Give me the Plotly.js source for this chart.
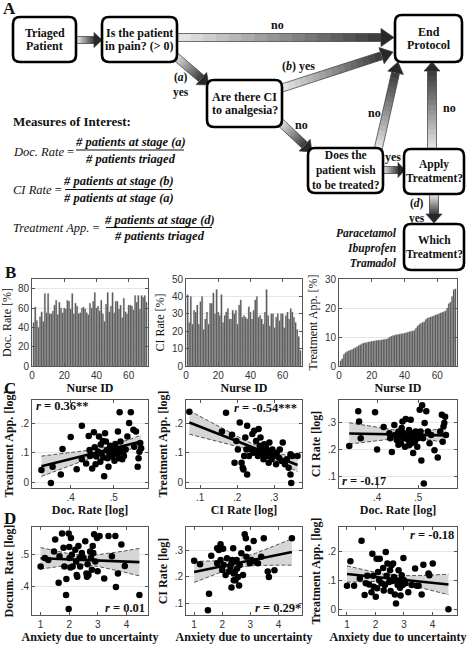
<!DOCTYPE html>
<html>
<head>
<meta charset="utf-8">
<script src="https://cdn.plot.ly/plotly-3.0.1.min.js"></script>
<style>
  html, body { margin: 0; padding: 0; background: #fff; }
  #fig { width: 474px; height: 646px; }
</style>
</head>
<body>
<div id="fig"></div>
<script>
// ---------- Panel B: per-nurse rates (%) ----------
const docRatePct = [45, 61, 47, 40, 51, 56, 46, 75, 55, 75, 54, 54, 57, 63, 68, 53, 66, 60, 55, 60,
  59, 68, 67, 59, 75, 54, 65, 62, 54, 55, 60, 61, 59, 55, 53, 65, 60, 67, 76, 60,
  62, 57, 68, 54, 46, 64, 76, 56, 62, 76, 55, 67, 67, 59, 63, 50, 70, 56, 54, 63,
  63, 62, 58, 73, 66, 73, 59, 73, 71, 73, 66];
const ciRatePct = [41, 25, 40, 24, 32, 31, 35, 24, 37, 40, 21, 27, 31, 24, 36, 36, 42, 30, 44, 31,
  29, 41, 25, 29, 31, 33, 27, 27, 32, 30, 32, 24, 35, 38, 28, 29, 28, 27, 34, 31,
  27, 32, 38, 40, 28, 29, 27, 24, 31, 44, 29, 23, 30, 30, 22, 28, 30, 26, 30, 30,
  22, 29, 31, 27, 33, 31, 28, 25, 21, 17, 9];
const treatAppPctSorted = [1.8, 2.5, 4.0, 4.6, 5.0, 5.3, 5.5, 5.7, 6.0, 6.3, 6.6, 7.0, 7.3, 7.7, 7.9, 8.0, 8.1, 8.3, 8.4, 8.5,
  8.6, 8.7, 8.8, 8.9, 8.9, 9.0, 9.1, 9.2, 9.3, 9.6, 10.0, 10.3, 10.5, 10.6, 10.8, 10.9, 11.0, 11.1, 11.2, 11.3,
  11.5, 11.6, 11.8, 12.0, 12.1, 12.3, 13.0, 13.8, 14.3, 14.7, 15.0, 15.3, 16.0, 16.5, 16.7, 16.9, 17.1, 17.3, 17.6, 17.8,
  18.0, 18.3, 18.5, 18.7, 19.0, 20.0, 21.5, 22.0, 24.0, 26.3, 26.6];

// ---------- Panel C: log-rate relations ----------
const c1Doc = [.332,.354,.358,.381,.377,.400,.414,.426,.426,.436,.442,.444,.448,.450,.454,.456,.460,.464,.466,.469,
  .472,.476,.478,.480,.482,.484,.486,.488,.490,.492,.496,.500,.502,.504,.508,.510,.512,.514,.516,.518,
  .520,.524,.528,.532,.536,.540,.546,.548,.552,.556,.558,.560,.562,.564,.470,.458,.494,.506,.522,.445,.475,.498];
const c1Treat = [.043,.000,.054,.113,.028,.153,.046,.191,.079,.065,.157,.110,.093,.048,.169,.119,.088,.104,.155,.071,
  .099,.085,.022,.166,.138,.110,.082,.054,.099,.124,.088,.110,.074,.130,.099,.172,.082,.236,.138,.110,
  .079,.090,.112,.155,.200,.236,.178,.121,.172,.054,.082,.104,.133,.116,.128,.062,.102,.115,.098,.090,.140,.092];

const c2CI = [.071,.170,.159,.186,.198,.207,.227,.193,.212,.215,.217,.227,.232,.237,.241,.246,.251,.254,.256,.258,
  .261,.263,.266,.268,.271,.273,.276,.278,.280,.283,.285,.287,.290,.293,.295,.300,.305,.307,.313,.315,
  .320,.323,.329,.334,.339,.344,.349,.344,.346,.363,.222,.225,.244,.202,.219];
const c2Treat = [.238,.234,.172,.161,.140,.202,.191,.067,.067,.051,.045,.028,.090,.112,.163,.174,.140,.107,.090,.180,
  .124,.152,.096,.112,.079,.129,.101,.118,.090,.107,.067,.135,.096,.079,.112,.090,.062,.101,.084,.112,
  .073,.135,.062,.079,.051,.096,.090,.028,.000,.090,.152,.112,.101,.112,.090];

const c3Doc = [.332,.354,.356,.360,.395,.400,.416,.430,.432,.436,.442,.444,.448,.452,.456,.458,.460,.462,.464,.466,
  .468,.470,.472,.476,.478,.480,.482,.484,.486,.488,.490,.492,.494,.496,.498,.500,.504,.506,.508,.510,
  .512,.514,.516,.520,.524,.528,.532,.540,.548,.554,.558,.560,.562,.564,.566,.568,.478,.452];
const c3CI = [.213,.343,.305,.242,.339,.200,.284,.261,.242,.191,.292,.254,.235,.267,.248,.223,.280,.305,.261,.242,
  .210,.314,.254,.235,.273,.248,.311,.223,.261,.187,.242,.229,.267,.251,.210,.242,.349,.267,.159,.365,
  .242,.073,.299,.343,.267,.223,.254,.197,.170,.267,.330,.229,.286,.299,.322,.254,.216,.218];

// ---------- Panel D: anxiety due to uncertainty ----------
const d1Anx = [1.00,1.15,1.27,1.51,1.47,1.63,1.66,1.75,1.80,1.83,1.89,1.90,1.98,1.98,2.00,2.01,2.04,2.06,2.09,2.12,
  2.21,2.24,2.26,2.28,2.32,2.36,2.38,2.44,2.50,2.56,2.60,2.62,2.64,2.67,2.73,2.76,2.79,2.82,2.84,2.87,
  2.91,2.97,2.99,3.06,3.22,3.37,3.61,3.49,3.63,3.70,3.82,3.94,4.45];
const d1Doc = [.462,.488,.482,.544,.508,.413,.493,.562,.519,.462,.376,.424,.562,.333,.521,.488,.459,.549,.498,.462,
  .513,.477,.436,.431,.524,.488,.462,.503,.488,.539,.441,.431,.469,.436,.508,.488,.452,.524,.503,.560,
  .477,.549,.448,.555,.426,.555,.555,.493,.400,.441,.529,.464,.376];

const d2Anx = [1.00,1.21,1.53,1.49,1.61,1.82,1.88,1.94,2.03,1.82,1.94,2.05,2.17,2.00,2.12,2.24,2.29,2.35,2.41,2.47,
  2.53,2.39,2.33,2.51,2.45,2.62,2.68,2.80,2.84,2.86,2.92,2.98,3.04,3.12,3.19,3.27,3.39,3.48,3.62,3.66,
  3.86,4.48,2.56,2.74,2.41,2.60,2.33];
const d2CI = [.262,.249,.136,.072,.282,.310,.304,.326,.308,.253,.265,.246,.272,.227,.208,.221,.240,.265,.213,.187,
  .233,.310,.253,.265,.221,.246,.291,.364,.349,.278,.310,.253,.265,.338,.259,.253,.278,.349,.221,.200,
  .226,.349,.200,.208,.187,.167,.160];

const d3Anx = [1.00,1.12,1.25,1.51,1.45,1.62,1.66,1.71,1.78,1.86,1.89,1.92,1.94,2.01,2.04,2.06,2.09,2.13,2.15,2.21,
  2.27,2.29,2.33,2.36,2.39,2.42,2.48,2.51,2.53,2.56,2.60,2.62,2.65,2.68,2.72,2.74,2.78,2.81,2.86,2.88,
  2.89,2.92,2.95,2.98,3.00,3.05,3.15,3.27,3.39,3.45,3.51,3.62,3.68,3.86,3.89,4.01,4.56];
const d3Treat = [.081,.165,.081,.236,.106,.049,.089,.115,.085,.058,.191,.115,.077,.043,.174,.072,.128,.100,.174,.089,
  .142,.064,.083,.197,.115,.157,.094,.134,.063,.151,.097,.157,.111,.051,.020,.100,.083,.134,.074,.047,
  .100,.117,.083,.176,.100,.089,.058,.083,.140,.081,.081,.051,.153,.123,.117,.157,.000];

// Correlation labels
const rLabels = ["<i>r</i> = 0.36**", "<i>r</i> = -0.54***", "<i>r</i> = -0.17",
                 "<i>r</i> = 0.01", "<i>r</i> = 0.29*", "<i>r</i> = -0.18"];

// Tick labels
const pctTicksB1 = [0, 20, 40, 60, 80];
const pctTicksB2 = [0, 10, 20, 30, 40, 50];
const pctTicksB3 = [0, 10, 20, 30];
const nurseTicks = [0, 20, 40, 60];
const docTickVals = [0.4, 0.5], docTickText = [".4", ".5"];
const ciTickVals = [0.1, 0.2, 0.3], ciTickText = [".1", ".2", ".3"];
const treatTickVals = [0, 0.1, 0.2], treatTickText = ["0", ".1", ".2"];
const documTickVals = [0.4, 0.5], documTickText = [".4", ".5"];
const anxTicks = [1, 2, 3, 4];

// ---------- helpers ----------
const W = 474, H = 646;
const SERIF = "'Liberation Serif', 'DejaVu Serif', serif";
const SANS = "'Liberation Sans', Arial, sans-serif";
const fx = x => x / W;
const fy = y => 1 - y / H;
const P = (x, y) => fx(x).toFixed(5) + ',' + fy(y).toFixed(5);

const shapes = [];
const annotations = [];

function txt(x, y, text, o = {}) {
  annotations.push({
    xref: 'paper', yref: 'paper', x: fx(x), y: fy(y), text, showarrow: false,
    xanchor: o.xanchor || 'center', yanchor: 'middle', borderpad: 0, align: o.align || 'center',
    font: { family: SERIF, size: o.size || 12, color: o.color || '#111' }
  });
}
function lines(cx, cy, arr, lh, o = {}) {
  arr.forEach((t, i) => txt(cx, cy + (i - (arr.length - 1) / 2) * lh, t, o));
}
function box(x0, y0, x1, y1, r) {
  const path = `M${P(x0 + r, y0)} L${P(x1 - r, y0)} Q${P(x1, y0)} ${P(x1, y0 + r)} L${P(x1, y1 - r)} Q${P(x1, y1)} ${P(x1 - r, y1)} L${P(x0 + r, y1)} Q${P(x0, y1)} ${P(x0, y1 - r)} L${P(x0, y0 + r)} Q${P(x0, y0)} ${P(x0 + r, y0)} Z`;
  shapes.push({ type: 'path', xref: 'paper', yref: 'paper', path, fillcolor: '#fff', line: { color: '#000', width: 2.6 } });
}
function gray(v) { v = Math.round(v); return `rgb(${v},${v},${v})`; }
function arrow(x0, y0, x1, y1, w, hw, hl) {
  const L = Math.hypot(x1 - x0, y1 - y0), ux = (x1 - x0) / L, uy = (y1 - y0) / L, nx = -uy, ny = ux;
  const sl = L - hl, bx = x1 - ux * hl, by = y1 - uy * hl;
  const N = 16;
  for (let i = 0; i < N; i++) {
    const t0 = i / N * sl, t1 = Math.min((i + 1) / N * sl + 0.7, sl);
    const ax0 = x0 + ux * t0, ay0 = y0 + uy * t0, ax1 = x0 + ux * t1, ay1 = y0 + uy * t1;
    const path = `M${P(ax0 + nx * w / 2, ay0 + ny * w / 2)} L${P(ax1 + nx * w / 2, ay1 + ny * w / 2)} L${P(ax1 - nx * w / 2, ay1 - ny * w / 2)} L${P(ax0 - nx * w / 2, ay0 - ny * w / 2)} Z`;
    shapes.push({ type: 'path', xref: 'paper', yref: 'paper', path, fillcolor: gray(232 - 175 * (i + 0.5) / N), line: { width: 0 } });
  }
  const head = `M${P(bx + nx * hw / 2, by + ny * hw / 2)} L${P(x1, y1)} L${P(bx - nx * hw / 2, by - ny * hw / 2)} Z`;
  shapes.push({ type: 'path', xref: 'paper', yref: 'paper', path: head, fillcolor: gray(40), line: { width: 0 } });
  const outline = `M${P(x0 + nx * w / 2, y0 + ny * w / 2)} L${P(bx + nx * w / 2, by + ny * w / 2)} L${P(bx + nx * hw / 2, by + ny * hw / 2)} L${P(x1, y1)} L${P(bx - nx * hw / 2, by - ny * hw / 2)} L${P(bx - nx * w / 2, by - ny * w / 2)} L${P(x0 - nx * w / 2, y0 - ny * w / 2)}`;
  shapes.push({ type: 'path', xref: 'paper', yref: 'paper', path: outline, line: { color: '#3a3a3a', width: 0.7 } });
}
function hline(x0, x1, y) {
  shapes.push({ type: 'line', xref: 'paper', yref: 'paper', x0: fx(x0), x1: fx(x1), y0: fy(y), y1: fy(y), line: { color: '#111', width: 1.2 } });
}

// ---------- Panel A: flowchart ----------
arrow(77, 40, 102, 40, 7, 15, 8);
arrow(178, 37.5, 394, 37.5, 8, 18, 13);
arrow(175, 56, 209, 85, 8, 16, 10);
arrow(282, 88, 393, 52, 8, 17, 12);
arrow(280, 122, 312, 152, 8, 16, 10);
arrow(378, 150, 398, 62, 8, 16, 11);
arrow(383, 170, 405, 170, 7, 15, 7);
arrow(432, 149, 432, 62, 9, 16, 9);
arrow(434, 195, 434, 223, 9, 16, 9);

box(13, 17, 76, 62, 7);
box(102, 17, 177, 62, 7);
box(395, 15, 462, 62, 7);
box(207, 80, 282, 127, 7);
box(308, 148, 383, 193, 7);
box(404, 149, 464, 194, 7);
box(404, 224, 464, 270, 7);

const B = s => '<b>' + s + '</b>';
lines(44.5, 39.5, [B('Triaged'), B('Patient')], 12.5, { size: 12 });
lines(139.5, 39.5, [B('Is the patient'), B('in pain? (&gt; 0)')], 12.5, { size: 12 });
lines(428.5, 38.5, [B('End'), B('Protocol')], 12.5, { size: 12 });
lines(244.5, 103.5, [B('Are there CI'), B('to analgesia?')], 12.5, { size: 12 });
txt(345.5, 170.5, B('Does the<br>patient wish<br>to be treated?'), { size: 11.5 });
lines(434, 171.5, [B('Apply'), B('Treatment?')], 13.5, { size: 11.5 });
lines(434, 247, [B('Which'), B('Treatment?')], 13.5, { size: 11.5 });

txt(277, 25, B('no'), { size: 12 });
txt(181, 85, B('(<i>a</i>)<br>yes'), { size: 11.5 });
txt(298, 66, B('(<i>b</i>) yes'), { size: 12 });
txt(301, 125, B('no'), { size: 12 });
txt(374, 113, B('no'), { size: 12 });
txt(449, 108, B('no'), { size: 12 });
txt(393, 157, B('yes'), { size: 12 });
txt(417, 210.5, B('(<i>d</i>)<br>yes'), { size: 11.5 });

txt(398, 247.5, '<b><i>Paracetamol<br>Ibuprofen<br>Tramadol</i></b>', { xanchor: 'right', align: 'right', size: 11.5 });

txt(12, 122, B('Measures of Interest:'), { xanchor: 'left', size: 13 });
txt(12, 152, '<i>Doc. Rate</i> =', { xanchor: 'left', size: 12.5 });
txt(130, 142, '<b><i># patients at stage (a)</i></b>', { size: 12.5 });
hline(76, 184, 150);
txt(130, 159, '<b><i># patients triaged</i></b>', { size: 12.5 });
txt(12, 190, '<i>CI Rate</i> =', { xanchor: 'left', size: 12.5 });
txt(118, 181, '<b><i># patients at stage (b)</i></b>', { size: 12.5 });
hline(65, 172, 189.5);
txt(118, 198, '<b><i># patients at stage (a)</i></b>', { size: 12.5 });
txt(12, 228, '<i>Treatment App.</i> =', { xanchor: 'left', size: 12.5 });
txt(159, 220, '<b><i># patients at stage (d)</i></b>', { size: 12.5 });
hline(106, 212, 227.5);
txt(159, 236, '<b><i># patients triaged</i></b>', { size: 12.5 });

// Panel letters
txt(9, 8, B('A'), { size: 17 });
txt(10, 272, B('B'), { size: 17 });
txt(10, 388, B('C'), { size: 17 });
txt(10, 518, B('D'), { size: 17 });

// ---------- axes ----------
const cols = [[32, 148], [186, 302], [339, 457]].map(c => [fx(c[0]), fx(c[1])]);
const rows = { B: [fy(366), fy(279)], C: [fy(488), fy(400)], D: [fy(615), fy(527)] };

function axis(domain, anchor, range, tickvals, ticktext, title, bold, standoff) {
  return {
    domain, anchor, range, tickmode: 'array', tickvals, ticktext: ticktext || tickvals.map(String),
    showline: true, mirror: 'ticks', linecolor: '#555', linewidth: 1,
    ticks: 'inside', ticklen: 3, tickcolor: '#555',
    tickfont: { family: SANS, size: 10, color: '#333' },
    zeroline: false, showgrid: false, fixedrange: true, automargin: false,
    title: { text: bold ? B(title) : title, font: { family: SERIF, size: 12, color: '#111' }, standoff: standoff }
  };
}

const layout = {
  width: W, height: H, margin: { l: 0, r: 0, t: 0, b: 0 },
  paper_bgcolor: '#fff', plot_bgcolor: '#fff', showlegend: false,
  bargap: 0.12, shapes, annotations,
  xaxis: axis(cols[0], 'y', [0, 72], nurseTicks, null, 'Nurse ID', true, 0),
  yaxis: axis(rows.B, 'x', [0, 90], pctTicksB1, null, 'Doc. Rate [%]', false, 4),
  xaxis2: axis(cols[1], 'y2', [0, 72], nurseTicks, null, 'Nurse ID', true, 0),
  yaxis2: axis(rows.B, 'x2', [0, 50], pctTicksB2, null, 'CI Rate [%]', false, 4),
  xaxis3: axis(cols[2], 'y3', [0, 72], nurseTicks, null, 'Nurse ID', true, 0),
  yaxis3: axis(rows.B, 'x3', [0, 30], pctTicksB3, null, 'Treatment App. [%]', false, 4),
  xaxis4: axis(cols[0], 'y4', [0.31, 0.58], docTickVals, docTickText, 'Doc. Rate [log]', true, 1),
  yaxis4: axis(rows.C, 'x4', [-0.017, 0.277], treatTickVals, treatTickText, 'Treatment App. [log]', true, 4),
  xaxis5: axis(cols[1], 'y5', [0.062, 0.375], ciTickVals, ciTickText, 'CI Rate [log]', true, 1),
  yaxis5: axis(rows.C, 'x5', [-0.017, 0.277], treatTickVals, treatTickText, 'Treatment App. [log]', true, 4),
  xaxis6: axis(cols[2], 'y6', [0.307, 0.595], docTickVals, docTickText, 'Doc. Rate [log]', true, 1),
  yaxis6: axis(rows.C, 'x6', [0.056, 0.385], ciTickVals, ciTickText, 'CI Rate [log]', true, 4),
  xaxis7: axis(cols[0], 'y7', [0.7, 4.75], anxTicks, null, 'Anxiety due to uncertainty', true, 2),
  yaxis7: axis(rows.D, 'x7', [0.315, 0.582], documTickVals, documTickText, 'Docum. Rate [log]', true, 4),
  xaxis8: axis(cols[1], 'y8', [0.71, 4.84], anxTicks, null, 'Anxiety due to uncertainty', true, 2),
  yaxis8: axis(rows.D, 'x8', [0.054, 0.392], ciTickVals, ciTickText, 'CI Rate [log]', true, 4),
  xaxis9: axis(cols[2], 'y9', [0.72, 4.86], anxTicks, null, 'Anxiety due to uncertainty', true, 2),
  yaxis9: axis(rows.D, 'x9', [-0.02, 0.283], treatTickVals, treatTickText, 'Treatment App. [log]', true, 4)
};
['yaxis', 'yaxis2', 'yaxis3', 'yaxis4', 'yaxis5', 'yaxis6', 'yaxis7', 'yaxis8', 'yaxis9'].forEach(k => {
  layout[k].showgrid = true; layout[k].gridcolor = '#e6e6e6'; layout[k].gridwidth = 1;
});

// ---------- traces ----------
const traces = [];
function bars(vals, xa, ya) {
  traces.push({
    type: 'bar', x: vals.map((_, i) => i + 1), y: vals, xaxis: xa, yaxis: ya,
    marker: { color: '#4f4f4f', line: { color: '#9c9c9c', width: 0.35 } }, hoverinfo: 'skip'
  });
}
bars(docRatePct, 'x', 'y');
bars(ciRatePct, 'x2', 'y2');
bars(treatAppPctSorted, 'x3', 'y3');

// least-squares fit with 95% confidence band of the mean
function fitTraces(xs, ys, xa, ya) {
  const n = xs.length;
  const mx = xs.reduce((a, b) => a + b, 0) / n, my = ys.reduce((a, b) => a + b, 0) / n;
  let sxx = 0, sxy = 0;
  for (let i = 0; i < n; i++) { sxx += (xs[i] - mx) ** 2; sxy += (xs[i] - mx) * (ys[i] - my); }
  const b = sxy / sxx, a = my - b * mx;
  let sse = 0;
  for (let i = 0; i < n; i++) sse += (ys[i] - a - b * xs[i]) ** 2;
  const s = Math.sqrt(sse / (n - 2)), t = 2.0;
  const xmin = Math.min(...xs), xmax = Math.max(...xs);
  const gx = [], gy = [], lo = [], hi = [];
  for (let k = 0; k <= 40; k++) {
    const x = xmin + (xmax - xmin) * k / 40, yh = a + b * x;
    const se = s * Math.sqrt(1 / n + (x - mx) ** 2 / sxx);
    gx.push(x); gy.push(yh); lo.push(yh - t * se); hi.push(yh + t * se);
  }
  const dashed = { color: '#555', width: 1, dash: '4px,2px' };
  traces.push({ type: 'scatter', mode: 'lines', x: gx, y: lo, xaxis: xa, yaxis: ya, line: dashed, hoverinfo: 'skip' });
  traces.push({ type: 'scatter', mode: 'lines', x: gx, y: hi, xaxis: xa, yaxis: ya, line: dashed, fill: 'tonexty', fillcolor: '#d6d6d6', hoverinfo: 'skip' });
  traces.push({ type: 'scatter', mode: 'lines', x: gx, y: gy, xaxis: xa, yaxis: ya, line: { color: '#000', width: 2.6 }, hoverinfo: 'skip' });
  traces.push({ type: 'scatter', mode: 'markers', x: xs, y: ys, xaxis: xa, yaxis: ya, marker: { color: '#000', size: 6.5 }, hoverinfo: 'skip' });
}
fitTraces(c1Doc, c1Treat, 'x4', 'y4');
fitTraces(c2CI, c2Treat, 'x5', 'y5');
fitTraces(c3Doc, c3CI, 'x6', 'y6');
fitTraces(d1Anx, d1Doc, 'x7', 'y7');
fitTraces(d2Anx, d2CI, 'x8', 'y8');
fitTraces(d3Anx, d3Treat, 'x9', 'y9');

// correlation labels
txt(35, 406, B(rLabels[0]), { xanchor: 'left', size: 12.5 });
txt(298, 408, B(rLabels[1]), { xanchor: 'right', size: 12.5 });
txt(341, 481, B(rLabels[2]), { xanchor: 'left', size: 12.5 });
txt(146, 608, B(rLabels[3]), { xanchor: 'right', size: 12.5 });
txt(302, 608, B(rLabels[4]), { xanchor: 'right', size: 12.5 });
txt(455, 535, B(rLabels[5]), { xanchor: 'right', size: 12.5 });

Plotly.newPlot('fig', traces, layout, { staticPlot: true, displayModeBar: false });
</script>
</body>
</html>
